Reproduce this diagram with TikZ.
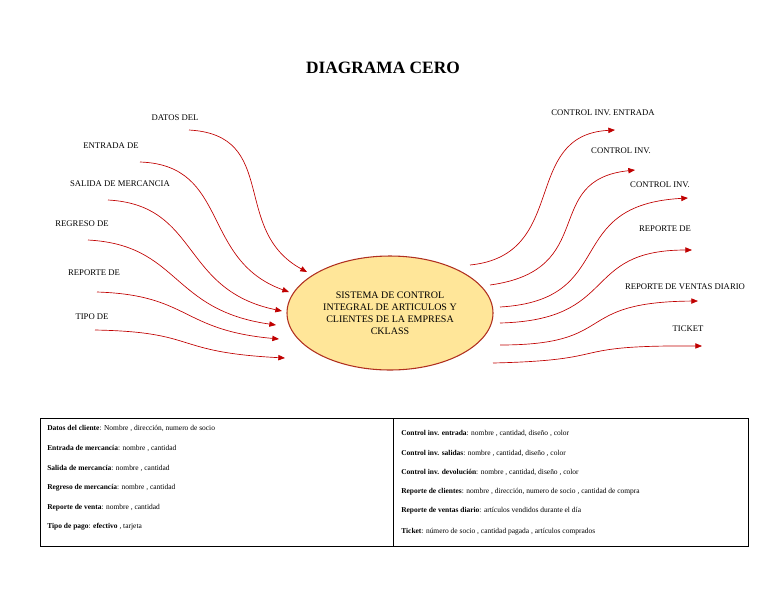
\documentclass[tikz,border=0pt]{standalone}
\usepackage{fontspec}
\setmainfont{Liberation Serif}
\usetikzlibrary{arrows.meta,shapes.geometric}
\definecolor{arr}{HTML}{C00000}
\definecolor{ell}{HTML}{FFE699}
\definecolor{ellb}{HTML}{B03020}
\begin{document}
\begin{tikzpicture}[x=0.75pt,y=-0.75pt,
  lab/.style={font=\fontsize{6.5}{7}\selectfont,inner sep=0pt},
  row/.style={font=\fontsize{5.6}{6}\selectfont,anchor=west,inner sep=0pt},
  flow/.style={arr,line width=0.5pt,-{Triangle[length=5pt,width=4pt]}}]
\useasboundingbox (0,0) rectangle (768,594);
\node[font=\bfseries\fontsize{13}{15}\selectfont] (title) at (383,68) {DIAGRAMA CERO};
\node[ellipse,draw=ellb,line width=0.8pt,fill=ell,minimum width=154.5pt,minimum height=85.5pt,inner sep=0pt,
  align=center,font=\fontsize{7.5}{9}\selectfont] (sys) at (390,313)
  {SISTEMA DE CONTROL\\INTEGRAL DE ARTICULOS Y\\CLIENTES DE LA EMPRESA\\CKLASS};
% left labels
\node[lab] (l1) at (175,118) {DATOS DEL};
\node[lab] (l2) at (111,146) {ENTRADA DE};
\node[lab] (l3) at (120,184) {SALIDA DE MERCANCIA};
\node[lab] (l4) at (82,224) {REGRESO DE};
\node[lab] (l5) at (94,273) {REPORTE DE};
\node[lab] (l6) at (92,317) {TIPO DE};
% left arrows
\coordinate (a1) at (189,130); \coordinate (b1) at (307,272);
\coordinate (a2) at (140,162); \coordinate (b2) at (289,292);
\coordinate (a3) at (108,200); \coordinate (b3) at (282,311);
\coordinate (a4) at (88,240);  \coordinate (b4) at (276,325);
\coordinate (a5) at (97,292);  \coordinate (b5) at (279,339);
\coordinate (a6) at (95,330);  \coordinate (b6) at (285,358);
\draw[flow] (a1) .. controls (280,135) and (230,230) .. (b1);
\draw[flow] (a2) .. controls (230,165) and (200,260) .. (b2);
\draw[flow] (a3) .. controls (200,205) and (180,290) .. (b3);
\draw[flow] (a4) .. controls (180,245) and (170,310) .. (b4);
\draw[flow] (a5) .. controls (190,295) and (180,330) .. (b5);
\draw[flow] (a6) .. controls (200,332) and (170,352) .. (b6);
% right labels
\node[lab] (r1) at (603,113) {CONTROL INV. ENTRADA};
\node[lab] (r2) at (621,151) {CONTROL INV.};
\node[lab] (r3) at (660,185) {CONTROL INV.};
\node[lab] (r4) at (665,229) {REPORTE DE};
\node[lab] (r5) at (685,287) {REPORTE DE VENTAS DIARIO};
\node[lab] (r6) at (688,329) {TICKET};
% right arrows
\coordinate (c1) at (470,265); \coordinate (d1) at (615,130);
\coordinate (c2) at (490,285); \coordinate (d2) at (635,170);
\coordinate (c3) at (500,307); \coordinate (d3) at (688,198);
\coordinate (c4) at (500,323); \coordinate (d4) at (692,250);
\coordinate (c5) at (500,345); \coordinate (d5) at (698,301);
\coordinate (c6) at (493,363); \coordinate (d6) at (702,346);
\draw[flow] (c1) .. controls (570,255) and (520,135) .. (d1);
\draw[flow] (c2) .. controls (600,270) and (540,180) .. (d2);
\draw[flow] (c3) .. controls (620,300) and (560,205) .. (d3);
\draw[flow] (c4) .. controls (620,320) and (580,250) .. (d4);
\draw[flow] (c5) .. controls (620,345) and (570,302) .. (d5);
\draw[flow] (c6) .. controls (620,360) and (560,345) .. (d6);
% table
\draw[line width=0.6pt] (40,418) rectangle (748,546);
\coordinate (t1) at (393,418); \coordinate (t2) at (393,546);
\draw[line width=0.6pt] (t1) -- (t2);
\node[row] (q1) at (47,428) {\textbf{Datos del cliente}: Nombre , dirección, numero de socio};
\node[row] (q2) at (47,448) {\textbf{Entrada de mercancía}: nombre , cantidad};
\node[row] (q3) at (47,468) {\textbf{Salida de mercancía}: nombre , cantidad};
\node[row] (q4) at (47,488) {\textbf{Regreso de mercancía}: nombre , cantidad};
\node[row] (q5) at (47,508) {\textbf{Reporte de venta}: nombre , cantidad};
\node[row] (q6) at (47,527) {\textbf{Tipo de pago}: \textbf{efectivo} , tarjeta};
\node[row] (p1) at (401,433) {\textbf{Control inv. entrada}: nombre , cantidad, diseño , color};
\node[row] (p2) at (401,453) {\textbf{Control inv. salidas}: nombre , cantidad, diseño , color};
\node[row] (p3) at (401,472) {\textbf{Control inv. devolución}: nombre , cantidad, diseño , color};
\node[row] (p4) at (401,492) {\textbf{Reporte de clientes}: nombre , dirección, numero de socio , cantidad de compra};
\node[row] (p5) at (401,511) {\textbf{Reporte de ventas diario}: artículos vendidos durante el día};
\node[row] (p6) at (401,532) {\textbf{Ticket}: número de socio , cantidad pagada , artículos comprados};
\end{tikzpicture}
\end{document}
